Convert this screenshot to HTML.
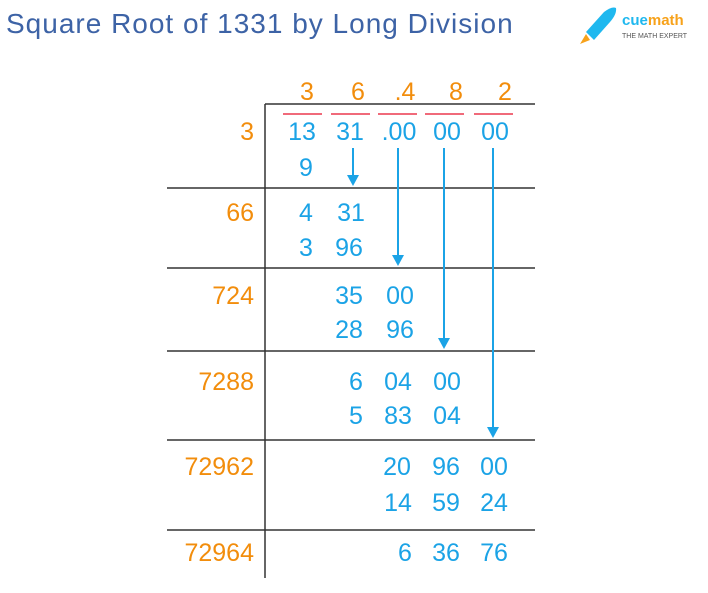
<!DOCTYPE html>
<html><head><meta charset="utf-8"><style>
body{margin:0;background:#fff;width:708px;height:593px;overflow:hidden}
svg{display:block;font-family:"Liberation Sans",sans-serif}
</style></head><body>
<svg width="708" height="593">
<text x="6" y="33" font-size="28" letter-spacing="1" fill="#3d63a6">Square Root of 1331 by Long Division</text>
<g>
<path d="M586 32 L604 12 Q612 6 616 8 Q617 14 610 22 L594 40 Z" fill="#1fb8ef"/>
<path d="M586 34 L580 44 L590 40 Z" fill="#f7a21b"/>
<text x="622" y="25" font-size="15" font-weight="bold" fill="#1fb8ef">cue<tspan fill="#f7a21b">math</tspan></text>
<text x="622" y="38" font-size="7" fill="#555">THE MATH EXPERT</text>
</g>
<g stroke="#333" stroke-width="1.5">
<line x1="265" y1="104" x2="265" y2="578"/>
<line x1="265" y1="104" x2="535" y2="104"/>
<line x1="167" y1="188" x2="535" y2="188"/>
<line x1="167" y1="268" x2="535" y2="268"/>
<line x1="167" y1="351" x2="535" y2="351"/>
<line x1="167" y1="440" x2="535" y2="440"/>
<line x1="167" y1="530" x2="535" y2="530"/>
</g>
<g stroke="#f06a7a" stroke-width="2">
<line x1="283" y1="114" x2="322" y2="114"/><line x1="331" y1="114" x2="370" y2="114"/>
<line x1="378" y1="114" x2="417" y2="114"/><line x1="425" y1="114" x2="464" y2="114"/>
<line x1="474" y1="114" x2="513" y2="114"/>
</g>
<g font-size="25" fill="#f28d0c" text-anchor="middle">
<text x="307" y="100">3</text><text x="358" y="100">6</text><text x="405" y="100">.4</text><text x="456" y="100">8</text><text x="505" y="100">2</text>
</g>
<g font-size="25" fill="#f28d0c" text-anchor="end">
<text x="254" y="140">3</text><text x="254" y="221">66</text><text x="254" y="304">724</text>
<text x="254" y="390">7288</text><text x="254" y="475">72962</text><text x="254" y="561">72964</text>
</g>
<g font-size="25" fill="#1ba3e6" text-anchor="middle">
<text x="302" y="140">13</text><text x="350" y="140">31</text><text x="399" y="140">.00</text><text x="447" y="140">00</text><text x="495" y="140">00</text>
<text x="306" y="176">9</text>
<text x="306" y="221">4</text><text x="351" y="221">31</text>
<text x="306" y="256">3</text><text x="349" y="256">96</text>
<text x="349" y="304">35</text><text x="400" y="304">00</text>
<text x="349" y="338">28</text><text x="400" y="338">96</text>
<text x="356" y="390">6</text><text x="398" y="390">04</text><text x="447" y="390">00</text>
<text x="356" y="424">5</text><text x="398" y="424">83</text><text x="447" y="424">04</text>
<text x="397" y="475">20</text><text x="446" y="475">96</text><text x="494" y="475">00</text>
<text x="398" y="511">14</text><text x="446" y="511">59</text><text x="494" y="511">24</text>
<text x="405" y="561">6</text><text x="446" y="561">36</text><text x="494" y="561">76</text>
</g>
<g stroke="#1ba3e6" stroke-width="2" fill="#1ba3e6">
<line x1="353" y1="148" x2="353" y2="178"/><path d="M347 175 L353 186 L359 175 Z" stroke="none"/>
<line x1="398" y1="148" x2="398" y2="258"/><path d="M392 255 L398 266 L404 255 Z" stroke="none"/>
<line x1="444" y1="148" x2="444" y2="341"/><path d="M438 338 L444 349 L450 338 Z" stroke="none"/>
<line x1="493" y1="148" x2="493" y2="430"/><path d="M487 427 L493 438 L499 427 Z" stroke="none"/>
</g>
</svg>
</body></html>
